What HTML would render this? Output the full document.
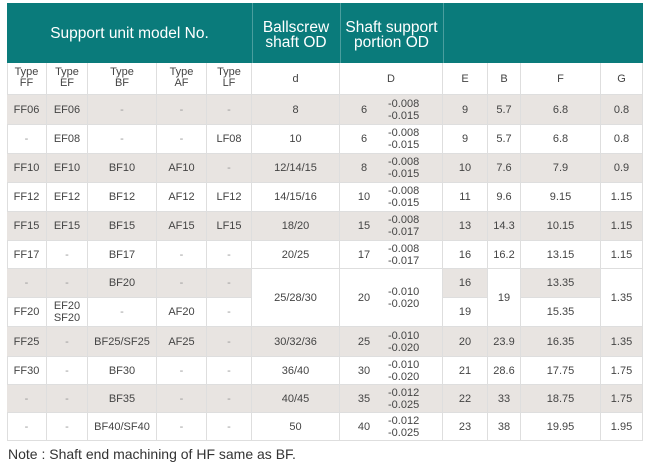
<!DOCTYPE html>
<html><head><meta charset="utf-8"><style>
*{margin:0;padding:0}
body{width:650px;height:466px;background:#fff;position:relative;overflow:hidden;font-family:"Liberation Sans","NanumGothic",sans-serif;}
.h{position:absolute;background:#0a7b7b;}
.hd{position:absolute;width:1px;background:#4a9e9e;top:3px;height:60px}
.ht{position:absolute;color:#fff;font-size:15.5px;line-height:15px;text-align:center;display:flex;align-items:center;justify-content:center;}
.c{position:absolute;box-sizing:border-box;border-right:1px solid #dedede;border-bottom:1px solid #dedede;display:flex;flex-direction:column;align-items:center;justify-content:center;text-align:center;font-size:11px;color:#444;line-height:12px;}
.sh{line-height:10.5px;padding-bottom:2px}
.s{background:#e8e4e1}
.g{color:#999}
.d .n{position:absolute;left:0;width:48px;text-align:center;top:50%;margin-top:-6px}
.d .t{position:absolute;left:48px;text-align:left;top:50%;margin-top:-12px}
.note{position:absolute;left:8px;top:446px;font-size:14px;color:#333;white-space:nowrap}
</style></head><body>
<div class="h" style="left:7px;top:3px;width:636px;height:60px"></div>
<div class="hd" style="left:252px"></div>
<div class="hd" style="left:340px"></div>
<div class="hd" style="left:443px"></div>
<div class="ht" style="left:7px;top:3px;width:245px;height:60px">Support unit model No.</div>
<div class="ht" style="left:252px;top:3px;width:88px;height:64px">Ballscrew<br>shaft OD</div>
<div class="ht" style="left:340px;top:3px;width:103px;height:64px">Shaft support<br>portion OD</div>
<div style="position:absolute;left:7px;top:63px;width:1px;height:378px;background:#dedede"></div>

<!-- subheader -->
<div class="c sh" style="left:7px;top:63px;width:40px;height:32px">Type<br>FF</div>
<div class="c sh" style="left:47px;top:63px;width:41px;height:32px">Type<br>EF</div>
<div class="c sh" style="left:88px;top:63px;width:69px;height:32px">Type<br>BF</div>
<div class="c sh" style="left:157px;top:63px;width:50px;height:32px">Type<br>AF</div>
<div class="c sh" style="left:207px;top:63px;width:45px;height:32px">Type<br>LF</div>
<div class="c" style="left:252px;top:63px;width:88px;height:32px">d</div>
<div class="c" style="left:340px;top:63px;width:103px;height:32px">D</div>
<div class="c" style="left:443px;top:63px;width:45px;height:32px">E</div>
<div class="c" style="left:488px;top:63px;width:33px;height:32px">B</div>
<div class="c" style="left:521px;top:63px;width:80px;height:32px">F</div>
<div class="c" style="left:601px;top:63px;width:42px;height:32px">G</div>

<!-- row 0 y95 h30 -->
<div class="c s" style="left:7px;top:95px;width:40px;height:30px">FF06</div>
<div class="c s" style="left:47px;top:95px;width:41px;height:30px">EF06</div>
<div class="c s g" style="left:88px;top:95px;width:69px;height:30px">-</div>
<div class="c s g" style="left:157px;top:95px;width:50px;height:30px">-</div>
<div class="c s g" style="left:207px;top:95px;width:45px;height:30px">-</div>
<div class="c s" style="left:252px;top:95px;width:88px;height:30px">8</div>
<div class="c s d" style="left:340px;top:95px;width:103px;height:30px"><span class="n">6</span><span class="t">-0.008<br>-0.015</span></div>
<div class="c s" style="left:443px;top:95px;width:45px;height:30px">9</div>
<div class="c s" style="left:488px;top:95px;width:33px;height:30px">5.7</div>
<div class="c s" style="left:521px;top:95px;width:80px;height:30px">6.8</div>
<div class="c s" style="left:601px;top:95px;width:42px;height:30px">0.8</div>

<!-- row 1 y125 h29 -->
<div class="c g" style="left:7px;top:125px;width:40px;height:29px">-</div>
<div class="c" style="left:47px;top:125px;width:41px;height:29px">EF08</div>
<div class="c g" style="left:88px;top:125px;width:69px;height:29px">-</div>
<div class="c g" style="left:157px;top:125px;width:50px;height:29px">-</div>
<div class="c" style="left:207px;top:125px;width:45px;height:29px">LF08</div>
<div class="c" style="left:252px;top:125px;width:88px;height:29px">10</div>
<div class="c d" style="left:340px;top:125px;width:103px;height:29px"><span class="n">6</span><span class="t">-0.008<br>-0.015</span></div>
<div class="c" style="left:443px;top:125px;width:45px;height:29px">9</div>
<div class="c" style="left:488px;top:125px;width:33px;height:29px">5.7</div>
<div class="c" style="left:521px;top:125px;width:80px;height:29px">6.8</div>
<div class="c" style="left:601px;top:125px;width:42px;height:29px">0.8</div>

<!-- row 2 y154 h29 -->
<div class="c s" style="left:7px;top:154px;width:40px;height:29px">FF10</div>
<div class="c s" style="left:47px;top:154px;width:41px;height:29px">EF10</div>
<div class="c s" style="left:88px;top:154px;width:69px;height:29px">BF10</div>
<div class="c s" style="left:157px;top:154px;width:50px;height:29px">AF10</div>
<div class="c s g" style="left:207px;top:154px;width:45px;height:29px">-</div>
<div class="c s" style="left:252px;top:154px;width:88px;height:29px">12/14/15</div>
<div class="c s d" style="left:340px;top:154px;width:103px;height:29px"><span class="n">8</span><span class="t">-0.008<br>-0.015</span></div>
<div class="c s" style="left:443px;top:154px;width:45px;height:29px">10</div>
<div class="c s" style="left:488px;top:154px;width:33px;height:29px">7.6</div>
<div class="c s" style="left:521px;top:154px;width:80px;height:29px">7.9</div>
<div class="c s" style="left:601px;top:154px;width:42px;height:29px">0.9</div>

<!-- row 3 y183 h29 -->
<div class="c" style="left:7px;top:183px;width:40px;height:29px">FF12</div>
<div class="c" style="left:47px;top:183px;width:41px;height:29px">EF12</div>
<div class="c" style="left:88px;top:183px;width:69px;height:29px">BF12</div>
<div class="c" style="left:157px;top:183px;width:50px;height:29px">AF12</div>
<div class="c" style="left:207px;top:183px;width:45px;height:29px">LF12</div>
<div class="c" style="left:252px;top:183px;width:88px;height:29px">14/15/16</div>
<div class="c d" style="left:340px;top:183px;width:103px;height:29px"><span class="n">10</span><span class="t">-0.008<br>-0.015</span></div>
<div class="c" style="left:443px;top:183px;width:45px;height:29px">11</div>
<div class="c" style="left:488px;top:183px;width:33px;height:29px">9.6</div>
<div class="c" style="left:521px;top:183px;width:80px;height:29px">9.15</div>
<div class="c" style="left:601px;top:183px;width:42px;height:29px">1.15</div>

<!-- row 4 y212 h29 -->
<div class="c s" style="left:7px;top:212px;width:40px;height:29px">FF15</div>
<div class="c s" style="left:47px;top:212px;width:41px;height:29px">EF15</div>
<div class="c s" style="left:88px;top:212px;width:69px;height:29px">BF15</div>
<div class="c s" style="left:157px;top:212px;width:50px;height:29px">AF15</div>
<div class="c s" style="left:207px;top:212px;width:45px;height:29px">LF15</div>
<div class="c s" style="left:252px;top:212px;width:88px;height:29px">18/20</div>
<div class="c s d" style="left:340px;top:212px;width:103px;height:29px"><span class="n">15</span><span class="t">-0.008<br>-0.017</span></div>
<div class="c s" style="left:443px;top:212px;width:45px;height:29px">13</div>
<div class="c s" style="left:488px;top:212px;width:33px;height:29px">14.3</div>
<div class="c s" style="left:521px;top:212px;width:80px;height:29px">10.15</div>
<div class="c s" style="left:601px;top:212px;width:42px;height:29px">1.15</div>

<!-- row 5 y241 h28 -->
<div class="c" style="left:7px;top:241px;width:40px;height:28px">FF17</div>
<div class="c g" style="left:47px;top:241px;width:41px;height:28px">-</div>
<div class="c" style="left:88px;top:241px;width:69px;height:28px">BF17</div>
<div class="c g" style="left:157px;top:241px;width:50px;height:28px">-</div>
<div class="c g" style="left:207px;top:241px;width:45px;height:28px">-</div>
<div class="c" style="left:252px;top:241px;width:88px;height:28px">20/25</div>
<div class="c d" style="left:340px;top:241px;width:103px;height:28px"><span class="n">17</span><span class="t">-0.008<br>-0.017</span></div>
<div class="c" style="left:443px;top:241px;width:45px;height:28px">16</div>
<div class="c" style="left:488px;top:241px;width:33px;height:28px">16.2</div>
<div class="c" style="left:521px;top:241px;width:80px;height:28px">13.15</div>
<div class="c" style="left:601px;top:241px;width:42px;height:28px">1.15</div>

<!-- row 6 y269 h29 / row 7 y298 h29 -->
<div class="c s g" style="left:7px;top:269px;width:40px;height:29px">-</div>
<div class="c s g" style="left:47px;top:269px;width:41px;height:29px">-</div>
<div class="c s" style="left:88px;top:269px;width:69px;height:29px">BF20</div>
<div class="c s g" style="left:157px;top:269px;width:50px;height:29px">-</div>
<div class="c s g" style="left:207px;top:269px;width:45px;height:29px">-</div>
<div class="c" style="left:252px;top:269px;width:88px;height:58px">25/28/30</div>
<div class="c d" style="left:340px;top:269px;width:103px;height:58px"><span class="n">20</span><span class="t">-0.010<br>-0.020</span></div>
<div class="c s" style="left:443px;top:269px;width:45px;height:29px">16</div>
<div class="c" style="left:488px;top:269px;width:33px;height:58px">19</div>
<div class="c s" style="left:521px;top:269px;width:80px;height:29px">13.35</div>
<div class="c" style="left:601px;top:269px;width:42px;height:58px">1.35</div>

<div class="c" style="left:7px;top:298px;width:40px;height:29px">FF20</div>
<div class="c" style="left:47px;top:298px;width:41px;height:29px">EF20<br>SF20</div>
<div class="c g" style="left:88px;top:298px;width:69px;height:29px">-</div>
<div class="c" style="left:157px;top:298px;width:50px;height:29px">AF20</div>
<div class="c g" style="left:207px;top:298px;width:45px;height:29px">-</div>
<div class="c" style="left:443px;top:298px;width:45px;height:29px">19</div>
<div class="c" style="left:521px;top:298px;width:80px;height:29px">15.35</div>

<!-- row 8 y327 h30 -->
<div class="c s" style="left:7px;top:327px;width:40px;height:30px">FF25</div>
<div class="c s g" style="left:47px;top:327px;width:41px;height:30px">-</div>
<div class="c s" style="left:88px;top:327px;width:69px;height:30px">BF25/SF25</div>
<div class="c s" style="left:157px;top:327px;width:50px;height:30px">AF25</div>
<div class="c s g" style="left:207px;top:327px;width:45px;height:30px">-</div>
<div class="c s" style="left:252px;top:327px;width:88px;height:30px">30/32/36</div>
<div class="c s d" style="left:340px;top:327px;width:103px;height:30px"><span class="n">25</span><span class="t">-0.010<br>-0.020</span></div>
<div class="c s" style="left:443px;top:327px;width:45px;height:30px">20</div>
<div class="c s" style="left:488px;top:327px;width:33px;height:30px">23.9</div>
<div class="c s" style="left:521px;top:327px;width:80px;height:30px">16.35</div>
<div class="c s" style="left:601px;top:327px;width:42px;height:30px">1.35</div>

<!-- row 9 y357 h28 -->
<div class="c" style="left:7px;top:357px;width:40px;height:28px">FF30</div>
<div class="c g" style="left:47px;top:357px;width:41px;height:28px">-</div>
<div class="c" style="left:88px;top:357px;width:69px;height:28px">BF30</div>
<div class="c g" style="left:157px;top:357px;width:50px;height:28px">-</div>
<div class="c g" style="left:207px;top:357px;width:45px;height:28px">-</div>
<div class="c" style="left:252px;top:357px;width:88px;height:28px">36/40</div>
<div class="c d" style="left:340px;top:357px;width:103px;height:28px"><span class="n">30</span><span class="t">-0.010<br>-0.020</span></div>
<div class="c" style="left:443px;top:357px;width:45px;height:28px">21</div>
<div class="c" style="left:488px;top:357px;width:33px;height:28px">28.6</div>
<div class="c" style="left:521px;top:357px;width:80px;height:28px">17.75</div>
<div class="c" style="left:601px;top:357px;width:42px;height:28px">1.75</div>

<!-- row 10 y385 h28 -->
<div class="c s g" style="left:7px;top:385px;width:40px;height:28px">-</div>
<div class="c s g" style="left:47px;top:385px;width:41px;height:28px">-</div>
<div class="c s" style="left:88px;top:385px;width:69px;height:28px">BF35</div>
<div class="c s g" style="left:157px;top:385px;width:50px;height:28px">-</div>
<div class="c s g" style="left:207px;top:385px;width:45px;height:28px">-</div>
<div class="c s" style="left:252px;top:385px;width:88px;height:28px">40/45</div>
<div class="c s d" style="left:340px;top:385px;width:103px;height:28px"><span class="n">35</span><span class="t">-0.012<br>-0.025</span></div>
<div class="c s" style="left:443px;top:385px;width:45px;height:28px">22</div>
<div class="c s" style="left:488px;top:385px;width:33px;height:28px">33</div>
<div class="c s" style="left:521px;top:385px;width:80px;height:28px">18.75</div>
<div class="c s" style="left:601px;top:385px;width:42px;height:28px">1.75</div>

<!-- row 11 y413 h28 -->
<div class="c g" style="left:7px;top:413px;width:40px;height:28px">-</div>
<div class="c g" style="left:47px;top:413px;width:41px;height:28px">-</div>
<div class="c" style="left:88px;top:413px;width:69px;height:28px">BF40/SF40</div>
<div class="c g" style="left:157px;top:413px;width:50px;height:28px">-</div>
<div class="c g" style="left:207px;top:413px;width:45px;height:28px">-</div>
<div class="c" style="left:252px;top:413px;width:88px;height:28px">50</div>
<div class="c d" style="left:340px;top:413px;width:103px;height:28px"><span class="n">40</span><span class="t">-0.012<br>-0.025</span></div>
<div class="c" style="left:443px;top:413px;width:45px;height:28px">23</div>
<div class="c" style="left:488px;top:413px;width:33px;height:28px">38</div>
<div class="c" style="left:521px;top:413px;width:80px;height:28px">19.95</div>
<div class="c" style="left:601px;top:413px;width:42px;height:28px">1.95</div>

<div class="note">Note : Shaft end machining of HF same as BF.</div>
</body></html>
